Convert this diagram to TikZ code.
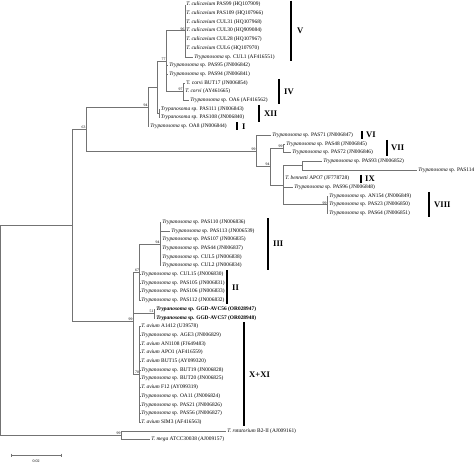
\documentclass[tikz,border=0pt]{standalone}
\usepackage{fontspec}
\setmainfont{Liberation Serif}
\definecolor{brc}{RGB}{115,115,115}
\begin{document}
\begin{tikzpicture}[x=1pt,y=-1pt,
  br/.style={draw=brc,line width=0.55pt},
  leaf/.style={anchor=west,inner xsep=1.3pt,inner ysep=0pt,outer sep=0pt,font=\fontsize{5.4}{6}\selectfont},
  bs/.style={anchor=south east,inner sep=0.4pt,font=\fontsize{3.8}{4}\selectfont},
  cbar/.style={draw=black,line width=2.4pt},
  clab/.style={anchor=west,inner sep=0pt,font=\fontsize{8.6}{9}\selectfont\bfseries}
]
\useasboundingbox (0,0) rectangle (474,470);
\clip (0,0) rectangle (474,470);
% internal nodes
\coordinate (r0) at (0.6,330.6);
\coordinate (A) at (72,225.0);
\coordinate (B) at (86,128.85);
\coordinate (F) at (148,106.85);
\coordinate (K) at (157,87.3);
\coordinate (L) at (166,61.2);
\coordinate (H) at (185,30.7);
\coordinate (IV) at (183,91.6);
\coordinate (XII) at (159,113.35);
\coordinate (Q) at (256,150.85);
\coordinate (R) at (270,166.6);
\coordinate (VII) at (283,148.15);
\coordinate (S) at (283,185.1);
\coordinate (T) at (302,165.55);
\coordinate (VIII) at (327,204.7);
\coordinate (C) at (133,321.2);
\coordinate (D) at (139.5,272.1);
\coordinate (III) at (160,243.85);
\coordinate (G) at (154,313.45);
\coordinate (E) at (139.5,374.35);
\coordinate (O) at (121,435.25);
% leaves
\node[leaf] (l1) at (185,4.6) {\textit{T. culicavium} PAS99 (HQ107909)};
\node[leaf] (l2) at (185,13.3) {\textit{T. culicavium} PAS109 (HQ107966)};
\node[leaf] (l3) at (185,22.0) {\textit{T. culicavium} CUL31 (HQ107968)};
\node[leaf] (l4) at (185,30.7) {\textit{T. culicavium} CUL30 (HQ909084)};
\node[leaf] (l5) at (185,39.4) {\textit{T. culicavium} CUL28 (HQ107967)};
\node[leaf] (l6) at (185,48.1) {\textit{T. culicavium} CUL6 (HQ107970)};
\node[leaf] (l7) at (193,56.8) {\textit{Trypanosoma} sp. CUL1 (AF416551)};
\node[leaf] (l8) at (168,65.5) {\textit{Trypanosoma} sp. PAS95 (JN006842)};
\node[leaf] (l9) at (168,74.2) {\textit{Trypanosoma} sp. PAS94 (JN006841)};
\node[leaf] (l10) at (185,82.9) {T. corvi BUT17 (JN006854)};
\node[leaf] (l11) at (184,91.6) {\textit{T. corvi} (AY461665)};
\node[leaf] (l12) at (189,100.3) {\textit{Trypanosoma} sp. OA6 (AF416562)};
\node[leaf] (l13) at (159.5,109.0) {\textit{Trypanosoma} sp. PAS111 (JN006843)};
\node[leaf] (l14) at (159.5,117.7) {\textit{Trypanosoma} sp. PAS108 (JN006840)};
\node[leaf] (l15) at (149,126.4) {\textit{Trypanosoma} sp. OA8 (JN006844)};
\node[leaf] (l16) at (271,135.1) {\textit{Trypanosoma} sp. PAS71 (JN006847)};
\node[leaf] (l17) at (285,143.8) {\textit{Trypanosoma} sp. PAS48 (JN006845)};
\node[leaf] (l18) at (291,152.5) {\textit{Trypanosoma} sp. PAS72 (JN006846)};
\node[leaf] (l19) at (322,161.2) {\textit{Trypanosoma} sp. PAS93 (JN006852)};
\node[leaf] (l20) at (417,169.9) {\textit{Trypanosoma} sp. PAS114 (JN006853)};
\node[leaf] (l21) at (284,178.6) {\textit{T. bennetti} APO7 (JF778728)};
\node[leaf] (l22) at (293,187.3) {\textit{Trypanosoma} sp. PAS96 (JN006848)};
\node[leaf] (l23) at (328,196.0) {\textit{Trypanosoma} sp. AN154 (JN006849)};
\node[leaf] (l24) at (328,204.7) {\textit{Trypanosoma} sp. PAS23 (JN006850)};
\node[leaf] (l25) at (328,213.4) {\textit{Trypanosoma} sp. PAS64 (JN006851)};
\node[leaf] (l26) at (161,222.1) {\textit{Trypanosoma} sp. PAS110 (JN006836)};
\node[leaf] (l27) at (170,230.8) {\textit{Trypanosoma} sp. PAS113 (JN006539)};
\node[leaf] (l28) at (161,239.5) {\textit{Trypanosoma} sp. PAS107 (JN006835)};
\node[leaf] (l29) at (161,248.2) {\textit{Trypanosoma} sp. PAS44 (JN006837)};
\node[leaf] (l30) at (161,256.9) {\textit{Trypanosoma} sp. CUL5 (JN006838)};
\node[leaf] (l31) at (161,265.6) {\textit{Trypanosoma} sp. CUL2 (JN006834)};
\node[leaf] (l32) at (140,274.3) {\textit{Trypanosoma} sp. CUL15 (JN006830)};
\node[leaf] (l33) at (140,283.0) {\textit{Trypanosoma} sp. PAS105 (JN006831)};
\node[leaf] (l34) at (140,291.7) {\textit{Trypanosoma} sp. PAS106 (JN006833)};
\node[leaf] (l35) at (140,300.4) {\textit{Trypanosoma} sp. PAS112 (JN006832)};
\node[leaf] (l36) at (155,309.1) {\textbf{\textit{Trypanosoma} sp. GGD-AVC56 (OR028947)}};
\node[leaf] (l37) at (155,317.8) {\textbf{\textit{Trypanosoma} sp. GGD-AVC57 (OR028948)}};
\node[leaf] (l38) at (140,326.5) {\textit{T. avium} A1412 (U39578)};
\node[leaf] (l39) at (140,335.2) {\textit{Trypanosoma} sp. AGE3 (JN006829)};
\node[leaf] (l40) at (140,343.9) {\textit{T. avium} AN1108 (FJ649483)};
\node[leaf] (l41) at (140,352.6) {\textit{T. avium} APO1 (AF416559)};
\node[leaf] (l42) at (140,361.3) {\textit{T. avium} BUT15 (AY099320)};
\node[leaf] (l43) at (140,370.0) {\textit{Trypanosoma} sp. BUT19 (JN006828)};
\node[leaf] (l44) at (140,378.7) {\textit{Trypanosoma} sp. BUT20 (JN006825)};
\node[leaf] (l45) at (140,387.4) {\textit{T. avium} F12 (AY099319)};
\node[leaf] (l46) at (140,396.1) {\textit{Trypanosoma} sp. OA11 (JN006824)};
\node[leaf] (l47) at (140,404.8) {\textit{Trypanosoma} sp. PAS21 (JN006826)};
\node[leaf] (l48) at (140,413.5) {\textit{Trypanosoma} sp. PAS56 (JN006827)};
\node[leaf] (l49) at (140,422.2) {\textit{T. avium} SIM3 (AF416563)};
\node[leaf] (l50) at (226,430.9) {\textit{T. rotatorium} B2-II (AJ009161)};
\node[leaf] (l51) at (150,439.6) {\textit{T. mega} ATCC30038 (AJ009157)};
% branches
\draw[br] (r0) |- (A); \draw[br] (r0) |- (O);
\draw[br] (A) |- (B); \draw[br] (A) |- (C);
\draw[br] (B) |- (F); \draw[br] (B) |- (Q);
\draw[br] (F) |- (K); \draw[br] (F) |- (l15.west);
\draw[br] (K) |- (L); \draw[br] (K) |- (XII);
\draw[br] (L) |- (H); \draw[br] (L) |- (l8.west); \draw[br] (L) |- (l9.west); \draw[br] (L) |- (IV);
\foreach \i in {1,...,7} {\draw[br] (H) |- (l\i.west);}
\foreach \i in {10,11,12} {\draw[br] (IV) |- (l\i.west);}
\draw[br] (XII) |- (l13.west); \draw[br] (XII) |- (l14.west);
\draw[br] (Q) |- (l16.west); \draw[br] (Q) |- (R);
\draw[br] (R) |- (VII); \draw[br] (R) |- (S);
\draw[br] (VII) |- (l17.west); \draw[br] (VII) |- (l18.west);
\draw[br] (S) |- (T); \draw[br] (S) |- (l21.west); \draw[br] (S) |- (l22.west); \draw[br] (S) |- (VIII);
\draw[br] (T) |- (l19.west); \draw[br] (T) |- (l20.west);
\foreach \i in {23,24,25} {\draw[br] (VIII) |- (l\i.west);}
\draw[br] (C) |- (D); \draw[br] (C) |- (G); \draw[br] (C) |- (E);
\draw[br] (D) |- (III);
\foreach \i in {32,...,35} {\draw[br] (D) |- (l\i.west);}
\foreach \i in {26,...,31} {\draw[br] (III) |- (l\i.west);}
\draw[br] (G) |- (l36.west); \draw[br] (G) |- (l37.west);
\foreach \i in {38,...,49} {\draw[br] (E) |- (l\i.west);}
\draw[br] (O) |- (l50.west); \draw[br] (O) |- (l51.west);
% bootstrap values
\node[bs] (bB) at (B) {63};
\node[bs] (bF) at (F) {94};
\node[bs] (bL) at (L) {77};
\node[bs] (bH) at (H) {96};
\node[bs] (bIV) at (IV) {97};
\node[bs] (bQ) at (Q) {99};
\node[bs] (bR) at (R) {94};
\node[bs] (bVII) at (VII) {99};
\node[bs] (bVIII) at (VIII) {99};
\node[bs] (bC) at (C) {99};
\node[bs] (bD) at (D) {67};
\node[bs] (bIII) at (III) {94};
\node[bs] (bG) at (G) {51};
\node[bs] (bE) at (E) {70};
\node[bs] (bO) at (O) {99};
% clade bars
\draw[cbar] (291,0.6) -- (291,60.8);
\node[clab] (cV) at (297,30.7) {V};
\draw[cbar] (279,79) -- (279,104.3);
\node[clab] (cIV) at (284,91.6) {IV};
\draw[cbar] (259,105) -- (259,121.7);
\node[clab] (cXII) at (264,113.35) {XII};
\draw[cbar] (237,122.4) -- (237,130.4);
\node[clab] (cI) at (242,126.4) {I};
\draw[cbar] (362,131.1) -- (362,139.1);
\node[clab] (cVI) at (366,135.1) {VI};
\draw[cbar] (387,139.8) -- (387,156.5);
\node[clab] (cVII) at (391,148.15) {VII};
\draw[cbar] (361,174.6) -- (361,182.6);
\node[clab] (cIX) at (365,178.6) {IX};
\draw[cbar] (429,192) -- (429,217.4);
\node[clab] (cVIII) at (434,204.7) {VIII};
\draw[cbar] (268,218.1) -- (268,269.6);
\node[clab] (cIII) at (273,243.85) {III};
\draw[cbar] (227,270.3) -- (227,304.4);
\node[clab] (cII) at (232,287.35) {II};
\draw[cbar] (244,322.5) -- (244,426.2);
\node[clab] (cX) at (249,374.35) {X+XI};
% scale bar
\coordinate (s1) at (11,455);
\coordinate (s2) at (61,455);
\draw[br] (s1) -- (s2);
\draw[br] (11,453.5) -- (11,456.5);
\draw[br] (61,453.5) -- (61,456.5);
\node[font=\fontsize{4}{5}\selectfont,anchor=north,inner sep=0.5pt] (sl) at (36,459) {0.02};
\end{tikzpicture}
\end{document}
